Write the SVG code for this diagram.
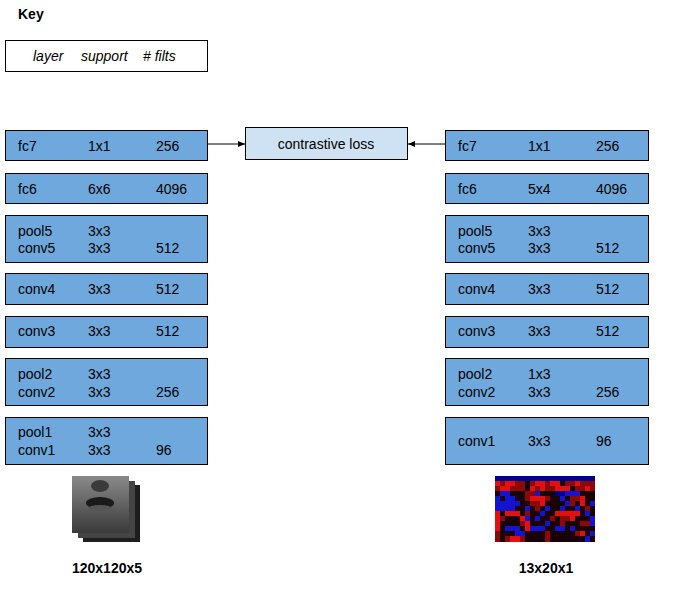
<svg xmlns="http://www.w3.org/2000/svg" width="679" height="593" viewBox="0 0 679 593">
<style>
text{font-family:"Liberation Sans",Arial,sans-serif;font-size:14px;fill:#000}
.b{font-weight:bold}
.i{font-style:italic}
.box{fill:#6fa8dc;stroke:#000;stroke-width:1}
.R{fill:#e41010}.r{fill:#8a0a0a}.K{fill:#1a0008}.B{fill:#1414d0}.D{fill:#000090}
</style>
<defs>
<marker id="ah" markerWidth="8" markerHeight="8" refX="7" refY="4" orient="auto" markerUnits="userSpaceOnUse"><path d="M0,1 L7,4 L0,7 z" fill="#000"/></marker>
<linearGradient id="fg" x1="0" y1="0" x2="0" y2="1"><stop offset="0" stop-color="#8a8a8a"/><stop offset="1" stop-color="#3a3a3a"/></linearGradient>
</defs>
<rect width="679" height="593" fill="#fff"/>
<g id="key">
<text x="18" y="19" class="b">Key</text>
<rect x="5.5" y="40.5" width="202" height="31" fill="#fff" stroke="#000"/>
<text x="33" y="61" class="i">layer</text><text x="81" y="61" class="i">support</text><text x="143" y="61" class="i"># filts</text>
</g>
<g id="left">
<g id="l-fc7"><rect class="box" x="5.5" y="130.5" width="202" height="30"/><text x="18" y="151">fc7</text><text x="88" y="151">1x1</text><text x="156" y="151">256</text></g>
<g id="l-fc6"><rect class="box" x="5.5" y="173.5" width="202" height="30"/><text x="18" y="194">fc6</text><text x="88" y="194">6x6</text><text x="156" y="194">4096</text></g>
<g id="l-pool5"><rect class="box" x="5.5" y="215.5" width="202" height="47"/><text x="18" y="236">pool5</text><text x="88" y="236">3x3</text><text x="18" y="253">conv5</text><text x="88" y="253">3x3</text><text x="156" y="253">512</text></g>
<g id="l-conv4"><rect class="box" x="5.5" y="273.5" width="202" height="31"/><text x="18" y="294">conv4</text><text x="88" y="294">3x3</text><text x="156" y="294">512</text></g>
<g id="l-conv3"><rect class="box" x="5.5" y="316.5" width="202" height="31"/><text x="18" y="336">conv3</text><text x="88" y="336">3x3</text><text x="156" y="336">512</text></g>
<g id="l-pool2"><rect class="box" x="5.5" y="358.5" width="202" height="47"/><text x="18" y="379">pool2</text><text x="88" y="379">3x3</text><text x="18" y="397">conv2</text><text x="88" y="397">3x3</text><text x="156" y="397">256</text></g>
<g id="l-pool1"><rect class="box" x="5.5" y="417.5" width="202" height="47"/><text x="18" y="437">pool1</text><text x="88" y="437">3x3</text><text x="18" y="455">conv1</text><text x="88" y="455">3x3</text><text x="156" y="455">96</text></g>
</g>
<g id="right">
<g id="r-fc7"><rect class="box" x="445.5" y="130.5" width="203" height="30"/><text x="458" y="151">fc7</text><text x="528" y="151">1x1</text><text x="596" y="151">256</text></g>
<g id="r-fc6"><rect class="box" x="445.5" y="173.5" width="203" height="30"/><text x="458" y="194">fc6</text><text x="528" y="194">5x4</text><text x="596" y="194">4096</text></g>
<g id="r-pool5"><rect class="box" x="445.5" y="215.5" width="203" height="47"/><text x="458" y="236">pool5</text><text x="528" y="236">3x3</text><text x="458" y="253">conv5</text><text x="528" y="253">3x3</text><text x="596" y="253">512</text></g>
<g id="r-conv4"><rect class="box" x="445.5" y="273.5" width="203" height="31"/><text x="458" y="294">conv4</text><text x="528" y="294">3x3</text><text x="596" y="294">512</text></g>
<g id="r-conv3"><rect class="box" x="445.5" y="316.5" width="203" height="31"/><text x="458" y="336">conv3</text><text x="528" y="336">3x3</text><text x="596" y="336">512</text></g>
<g id="r-pool2"><rect class="box" x="445.5" y="358.5" width="203" height="47"/><text x="458" y="379">pool2</text><text x="528" y="379">1x3</text><text x="458" y="397">conv2</text><text x="528" y="397">3x3</text><text x="596" y="397">256</text></g>
<g id="r-conv1"><rect class="box" x="445.5" y="417.5" width="203" height="47"/><text x="458" y="446">conv1</text><text x="528" y="446">3x3</text><text x="596" y="446">96</text></g>
</g>
<g id="loss"><rect x="245.5" y="127.5" width="162" height="32" fill="#cfe2f3" stroke="#000"/><text x="326" y="149" text-anchor="middle">contrastive loss</text></g>
<g id="connectors" stroke="#000" stroke-width="1" fill="none">
<line x1="208" y1="144" x2="245" y2="144" marker-end="url(#ah)"/>
<line x1="445" y1="144" x2="408" y2="144" marker-end="url(#ah)"/>
</g>
<g id="face">
<rect x="83" y="485" width="57" height="57" fill="#1e1e1e"/>
<rect x="78" y="481" width="57" height="57" fill="#444"/>
<rect x="72" y="476" width="57" height="57" fill="url(#fg)"/>
<ellipse cx="100" cy="486" rx="9" ry="6" fill="#3a3a3a"/>
<ellipse cx="100" cy="503" rx="14" ry="6" fill="#1a1a1a"/>
<ellipse cx="100" cy="508" rx="12" ry="3" fill="#555"/>
</g>
<g id="heatmap">
<rect class="D" x="495" y="476" width="100" height="5"/>
<rect class="r" x="495" y="481" width="100" height="5"/><rect class="R" x="495" y="481" width="5" height="5"/><rect class="R" x="505" y="481" width="10" height="5"/><rect class="R" x="535" y="481" width="10" height="5"/><rect class="R" x="550" y="481" width="10" height="5"/><rect class="R" x="575" y="481" width="5" height="5"/><rect class="K" x="525" y="481" width="5" height="5"/><rect class="K" x="560" y="481" width="5" height="5"/>
<rect class="r" x="495" y="486" width="100" height="5"/><rect class="R" x="500" y="486" width="10" height="5"/><rect class="R" x="530" y="486" width="5" height="5"/><rect class="R" x="540" y="486" width="5" height="5"/><rect class="R" x="555" y="486" width="15" height="5"/><rect class="R" x="585" y="486" width="5" height="5"/><rect class="K" x="525" y="486" width="5" height="5"/><rect class="K" x="570" y="486" width="5" height="5"/>
<rect class="K" x="495" y="491" width="100" height="5"/><rect class="B" x="500" y="491" width="10" height="5"/><rect class="B" x="535" y="491" width="5" height="5"/><rect class="B" x="565" y="491" width="15" height="5"/><rect class="r" x="525" y="491" width="10" height="5"/><rect class="D" x="555" y="491" width="10" height="5"/>
<rect class="K" x="495" y="496" width="100" height="5"/><rect class="B" x="495" y="496" width="5" height="5"/><rect class="B" x="505" y="496" width="10" height="5"/><rect class="B" x="560" y="496" width="5" height="5"/><rect class="r" x="525" y="496" width="5" height="5"/><rect class="r" x="545" y="496" width="5" height="5"/><rect class="r" x="570" y="496" width="10" height="5"/><rect class="R" x="530" y="496" width="15" height="5"/><rect class="R" x="580" y="496" width="5" height="5"/>
<rect class="K" x="495" y="501" width="100" height="5"/><rect class="B" x="495" y="501" width="25" height="5"/><rect class="B" x="565" y="501" width="5" height="5"/><rect class="B" x="590" y="501" width="5" height="5"/><rect class="r" x="530" y="501" width="10" height="5"/><rect class="r" x="570" y="501" width="5" height="5"/><rect class="R" x="540" y="501" width="5" height="5"/><rect class="R" x="580" y="501" width="5" height="5"/>
<rect class="K" x="495" y="506" width="100" height="5"/><rect class="B" x="495" y="506" width="20" height="5"/><rect class="B" x="525" y="506" width="5" height="5"/><rect class="B" x="545" y="506" width="5" height="5"/><rect class="B" x="560" y="506" width="5" height="5"/><rect class="B" x="575" y="506" width="5" height="5"/><rect class="r" x="535" y="506" width="5" height="5"/><rect class="r" x="585" y="506" width="5" height="5"/>
<rect class="K" x="495" y="511" width="100" height="5"/><rect class="R" x="495" y="511" width="5" height="5"/><rect class="R" x="505" y="511" width="15" height="5"/><rect class="R" x="555" y="511" width="25" height="5"/><rect class="r" x="525" y="511" width="5" height="5"/><rect class="B" x="540" y="511" width="5" height="5"/><rect class="B" x="585" y="511" width="5" height="5"/>
<rect class="K" x="495" y="516" width="100" height="5"/><rect class="R" x="495" y="516" width="5" height="5"/><rect class="R" x="520" y="516" width="5" height="5"/><rect class="R" x="570" y="516" width="5" height="5"/><rect class="r" x="500" y="516" width="5" height="5"/><rect class="r" x="550" y="516" width="5" height="5"/><rect class="r" x="560" y="516" width="10" height="5"/><rect class="B" x="525" y="516" width="5" height="5"/><rect class="B" x="535" y="516" width="5" height="5"/><rect class="B" x="590" y="516" width="5" height="5"/>
<rect class="K" x="495" y="521" width="100" height="5"/><rect class="R" x="495" y="521" width="5" height="5"/><rect class="R" x="525" y="521" width="5" height="5"/><rect class="r" x="520" y="521" width="5" height="5"/><rect class="r" x="560" y="521" width="5" height="5"/><rect class="r" x="580" y="521" width="10" height="5"/><rect class="B" x="545" y="521" width="5" height="5"/><rect class="B" x="590" y="521" width="5" height="5"/>
<rect class="K" x="495" y="526" width="100" height="5"/><rect class="R" x="495" y="526" width="5" height="5"/><rect class="R" x="525" y="526" width="5" height="5"/><rect class="B" x="505" y="526" width="15" height="5"/><rect class="B" x="530" y="526" width="15" height="5"/><rect class="B" x="555" y="526" width="10" height="5"/><rect class="B" x="570" y="526" width="5" height="5"/>
<rect class="K" x="495" y="531" width="100" height="5"/><rect class="r" x="495" y="531" width="5" height="5"/><rect class="r" x="545" y="531" width="5" height="5"/><rect class="r" x="575" y="531" width="5" height="5"/><rect class="B" x="515" y="531" width="10" height="5"/><rect class="B" x="590" y="531" width="5" height="5"/><rect class="R" x="580" y="531" width="5" height="5"/>
<rect class="K" x="495" y="536" width="100" height="6"/><rect class="r" x="495" y="536" width="5" height="6"/><rect class="r" x="505" y="536" width="5" height="6"/><rect class="r" x="520" y="536" width="5" height="6"/><rect class="r" x="545" y="536" width="5" height="6"/><rect class="R" x="510" y="536" width="10" height="6"/><rect class="B" x="585" y="536" width="5" height="6"/>
</g>
<text x="107" y="573" class="b" text-anchor="middle">120x120x5</text>
<text x="546" y="573" class="b" text-anchor="middle">13x20x1</text>
</svg>
